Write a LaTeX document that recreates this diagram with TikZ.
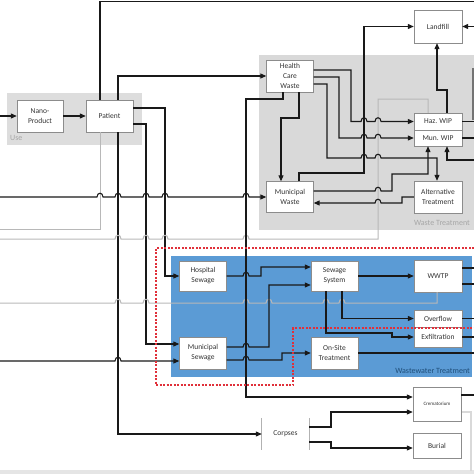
\documentclass[tikz,border=0pt]{standalone}
\usepackage{fontspec}
\setmainfont{Carlito}
\usetikzlibrary{arrows.meta, positioning}

\definecolor{boxgray}{HTML}{8C8C8C}
\definecolor{grpgray}{HTML}{D9D9D9}
\definecolor{linegray}{HTML}{B8B8B8}
\definecolor{wwblue}{HTML}{5B9BD5}
\definecolor{wwtext}{HTML}{1F4E79}
\definecolor{reddash}{HTML}{E0303A}

% jump over a crossing line (rightwards / leftwards)
\newcommand{\hop}[2]{-- (#1-3,#2) .. controls (#1-3,#2-5) and (#1+3,#2-5) .. (#1+3,#2)}
\newcommand{\hopl}[2]{-- (#1+3,#2) .. controls (#1+3,#2-5) and (#1-3,#2-5) .. (#1-3,#2)}

\tikzset{
    unit/.style={draw=boxgray, fill=white, inner sep=0pt, align=center,
        minimum width=47pt, minimum height=32pt, text=black!80,
        font=\fontsize{7.5}{10}\selectfont},
    flow/.style={line width=1.1pt, black!90},
    arr/.style={-{Triangle[length=6pt,width=5pt]}},
    faint/.style={line width=1pt, linegray},
    grp/.style={inner sep=0pt, font=\fontsize{8}{9}\selectfont}
}

\begin{document}
\begin{tikzpicture}[x=1pt, y=-1pt]
    \useasboundingbox (0,0) rectangle (474,474);

    % groups
    \fill[grpgray!90] (7,93) rectangle (142,145);
    \node[grp, text=black!35, anchor=west] (uselbl) at (10,138) {Use};
    \fill[grpgray] (259,55) rectangle (474,230);
    \node[grp, text=black!35, anchor=east] (wtlbl) at (470,223) {Waste Treatment};
    \fill[wwblue] (171,256) rectangle (472,377);
    \node[grp, text=wwtext, anchor=east] (wwlbl) at (470,371) {Wastewater Treatment};
    \fill[black!10] (0,470) rectangle (474,474);
    \draw[black!15, line width=1.5pt] (461,412) -- (471,412) -- (471,471);
    \draw[black!55, line width=2pt] (473,68) -- (473,120);

    % nodes
    \node[unit, minimum width=46pt] (nano) at (40,116) {Nano-\\Product};
    \node[unit] (patient) at (109.5,116) {Patient};
    \node[unit] (hcw) at (290,76) {Health\\Care\\Waste};
    \node[unit, minimum height=31pt] (mw) at (290,197) {Municipal\\Waste};
    \node[unit, minimum width=48pt, minimum height=33pt] (landfill) at (438,26.5) {Landfill};
    \node[unit, minimum width=48pt, minimum height=17pt] (haz) at (438,121.5) {Haz. WIP};
    \node[unit, minimum width=48pt, minimum height=16pt] (mun) at (438,138) {Mun. WIP};
    \node[unit, minimum width=48pt] (alt) at (438,197) {Alternative\\Treatment};
    \node[unit, minimum height=30pt] (hs) at (203,276) {Hospital\\Sewage};
    \node[unit] (ms) at (203,353) {Municipal\\Sewage};
    \node[unit, minimum height=30pt] (ss) at (334.5,276) {Sewage\\System};
    \node[unit] (ost) at (334.5,353) {On-Site\\Treatment};
    \node[unit, minimum width=48pt] (wwtp) at (438,276) {WWTP};
    \node[unit, minimum width=48pt, minimum height=17pt] (over) at (438,318.5) {Overflow};
    \node[unit, minimum width=48pt, minimum height=20pt] (exf) at (438,337) {Exfiltration};
    \node[unit, minimum width=48pt, minimum height=34pt, font=\fontsize{5}{6}\selectfont] (crem) at (437,404) {Crematorium};
    \node[unit, minimum width=48pt, minimum height=25pt] (burial) at (437,445.5) {Burial};
    \node[unit, draw=none, fill=none] (corpses) at (285.5,434) {Corpses};
    \draw[black!30, line width=0.8pt]
    (corpses.north west) -- (corpses.south west)
    (corpses.north east) -- (corpses.south east);

    % use
    \draw[flow, arr] (0,116) -- (nano.west);
    \draw[flow, arr] (nano) -- (patient);
    \draw[flow] (100,0 |- patient.north) -- (100,1.5) -- (474,1.5);
    \draw[flow, arr] (118,0 |- patient.north) |- (hcw.west);
    \draw[flow, arr] (patient.east |- 0,108) -| (165,276) -- (hs.west);
    \draw[flow, arr] (patient.east |- 0,124) -| (146,344) -- (ms.west |- 0,344);
    \draw[flow, arr] (118,0 |- patient.south) |- (corpses.west);
    \draw[faint] (100,0 |- patient.south) |- (0,229);

    % lines from the left
    \draw[flow, arr] (0,197) \hop{100}{197} \hop{118}{197} \hop{146}{197} \hop{165}{197} \hop{246}{197} -- (mw.west);
    \draw[faint] (0,239) \hop{118}{239} \hop{146}{239} \hop{165}{239} \hop{246}{239} -- (378,239) -- (378,99) -| (haz.north -| 428,0);
    \draw[faint] (0,303) \hop{118}{303} \hop{146}{303} \hop{246}{303} \hop{269}{303} \hop{326}{303} \hop{342}{303} -| (wwtp.south -| 437,0);
    \draw[flow, arr] (0,361) \hop{118}{361} -- (ms.west |- 0,361);

    % waste treatment
    \draw[flow, arr] (hcw.east |- 0,70) -| (351,121.5) \hop{364}{121.5} \hop{378}{121.5} -- (haz.west);
    \draw[flow, arr] (hcw.east |- 0,77) -| (339,138) \hop{364}{138} \hop{378}{138} -- (mun.west);
    \draw[flow, arr] (hcw.east |- 0,84) -| (327,158) \hop{364}{158} \hop{378}{158} -| (alt.north -| 437,0);
    \draw[flow, arr] (283,0 |- hcw.south) |- (246,99) |- (crem.west |- 0,397);
    \draw[flow, arr] (299,0 |- hcw.south) |- (281,118) -- (281,0 |- mw.north);
    \draw[flow, arr] (299,0 |- mw.north) |- (364,173) |- (landfill.west);
    \draw[flow, arr] (474,0 |- landfill.east) -- (landfill.east);
    \draw[flow, arr] (447,0 |- haz.north) |- (437,90) -- (437,0 |- landfill.south);
    \draw[flow, arr] (474,160) -| (447,0 |- mun.south);
    \draw[flow, arr] (mw.east |- 0,191) \hop{378}{191} -| (392,174) -| (428,0 |- mun.south);
    \draw[flow, arr] (alt.west) -| (402,203) \hopl{378}{203} -- (mw.east |- 0,203);

    % wastewater treatment
    \draw[flow, arr] (hs.east) \hop{246}{276} -| (261,267) -- (ss.west |- 0,267);
    \draw[flow, arr] (ms.east |- 0,347) \hop{246}{347} -| (269,285) -- (ss.west |- 0,285);
    \draw[flow, arr] (ms.east |- 0,360) \hop{246}{360} -| (282,353) -- (ost.west);
    \draw[flow, arr] (ss.east) -- (wwtp.west);
    \draw[flow, arr] (342,0 |- ss.south) |- (over.west);
    \draw[flow, arr] (326,0 |- ss.south) |- (392,333) |- (exf.west);

    % corpses
    \draw[flow, arr] (corpses.east |- 0,427) -| (331,412) -- (crem.west |- 0,412);
    \draw[flow, arr] (corpses.east |- 0,442) -| (331,448) -- (burial.west |- 0,448);

    % outputs to the right
    \foreach \src/\yy in {haz/121.5, mun/138, wwtp/268, wwtp/284, over/318.5, exf/337, ost/353, crem/395}
        \draw[flow] (\src.east |- 0,\yy) -- (474,\yy);

    \draw[reddash, line width=1.2pt, dash pattern=on 2pt off 1.5pt]
    (474,248) -- (156,248) -- (156,385) -- (293,385) -- (293,328) -- (474,328);
\end{tikzpicture}
\end{document}
